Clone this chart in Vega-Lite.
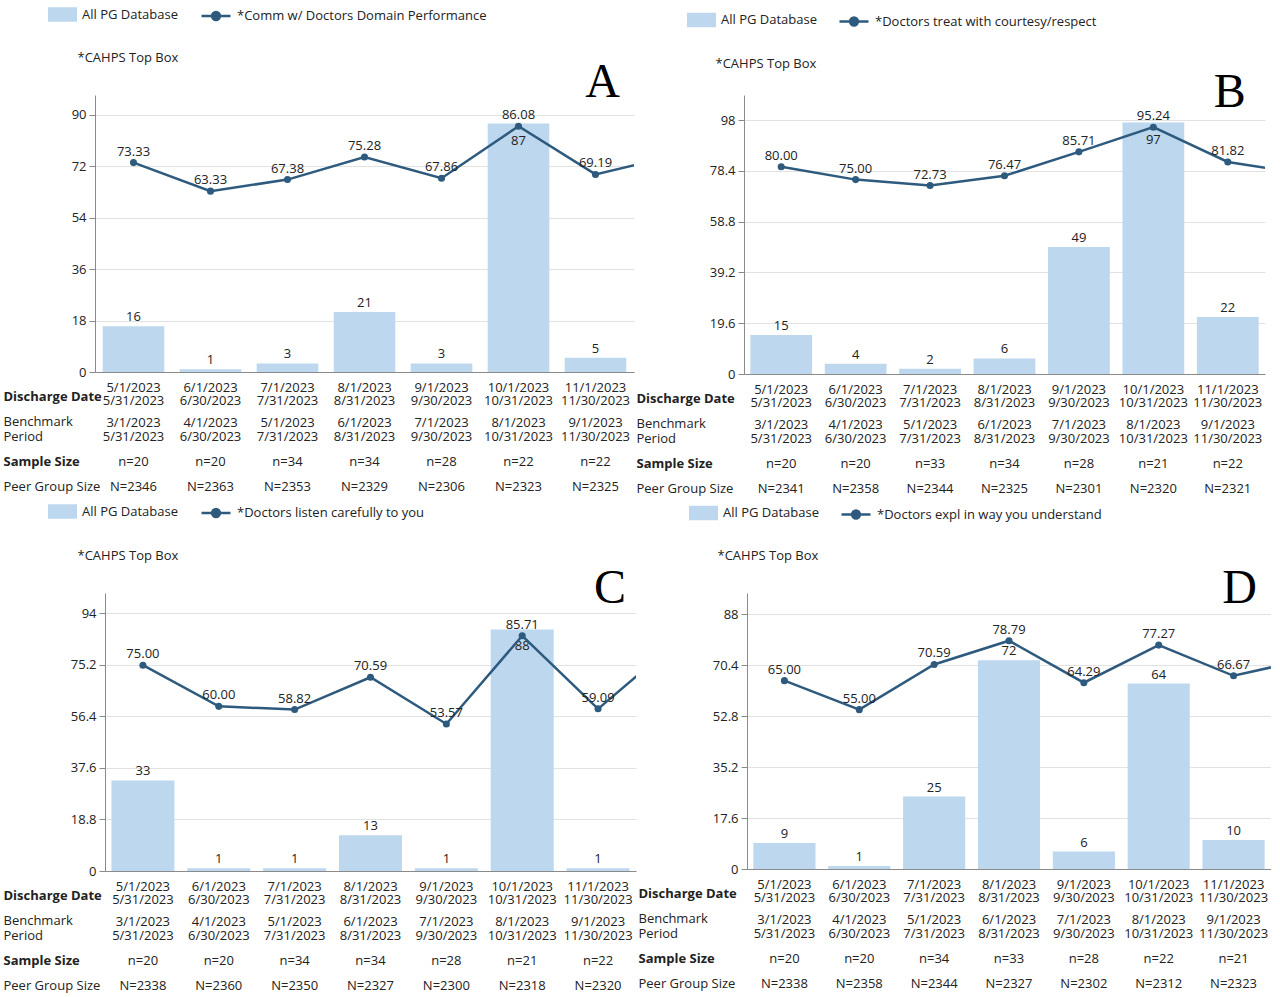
{
  "$schema": "https://vega.github.io/schema/vega-lite/v6.json",
  "padding": {"left": 0, "top": 0, "right": 0, "bottom": 0},
  "background": "white",
  "datasets": {
    "A": [
      {"Discharge Date": "5/1/2023\n5/31/2023", "Benchmark Period": "3/1/2023\n5/31/2023", "Sample Size": "n=20", "Peer Group Size": "N=2346", "bar": 16, "line": 73.33},
      {"Discharge Date": "6/1/2023\n6/30/2023", "Benchmark Period": "4/1/2023\n6/30/2023", "Sample Size": "n=20", "Peer Group Size": "N=2363", "bar": 1, "line": 63.33},
      {"Discharge Date": "7/1/2023\n7/31/2023", "Benchmark Period": "5/1/2023\n7/31/2023", "Sample Size": "n=34", "Peer Group Size": "N=2353", "bar": 3, "line": 67.38},
      {"Discharge Date": "8/1/2023\n8/31/2023", "Benchmark Period": "6/1/2023\n8/31/2023", "Sample Size": "n=34", "Peer Group Size": "N=2329", "bar": 21, "line": 75.28},
      {"Discharge Date": "9/1/2023\n9/30/2023", "Benchmark Period": "7/1/2023\n9/30/2023", "Sample Size": "n=28", "Peer Group Size": "N=2306", "bar": 3, "line": 67.86},
      {"Discharge Date": "10/1/2023\n10/31/2023", "Benchmark Period": "8/1/2023\n10/31/2023", "Sample Size": "n=22", "Peer Group Size": "N=2323", "bar": 87, "line": 86.08},
      {"Discharge Date": "11/1/2023\n11/30/2023", "Benchmark Period": "9/1/2023\n11/30/2023", "Sample Size": "n=22", "Peer Group Size": "N=2325", "bar": 5, "line": 69.19},
      {"Discharge Date": "12/1/2023\n12/31/2023", "line": 75.6}
    ],
    "B": [
      {"Discharge Date": "5/1/2023\n5/31/2023", "Benchmark Period": "3/1/2023\n5/31/2023", "Sample Size": "n=20", "Peer Group Size": "N=2341", "bar": 15, "line": 80.00},
      {"Discharge Date": "6/1/2023\n6/30/2023", "Benchmark Period": "4/1/2023\n6/30/2023", "Sample Size": "n=20", "Peer Group Size": "N=2358", "bar": 4, "line": 75.00},
      {"Discharge Date": "7/1/2023\n7/31/2023", "Benchmark Period": "5/1/2023\n7/31/2023", "Sample Size": "n=33", "Peer Group Size": "N=2344", "bar": 2, "line": 72.73},
      {"Discharge Date": "8/1/2023\n8/31/2023", "Benchmark Period": "6/1/2023\n8/31/2023", "Sample Size": "n=34", "Peer Group Size": "N=2325", "bar": 6, "line": 76.47},
      {"Discharge Date": "9/1/2023\n9/30/2023", "Benchmark Period": "7/1/2023\n9/30/2023", "Sample Size": "n=28", "Peer Group Size": "N=2301", "bar": 49, "line": 85.71},
      {"Discharge Date": "10/1/2023\n10/31/2023", "Benchmark Period": "8/1/2023\n10/31/2023", "Sample Size": "n=21", "Peer Group Size": "N=2320", "bar": 97, "line": 95.24},
      {"Discharge Date": "11/1/2023\n11/30/2023", "Benchmark Period": "9/1/2023\n11/30/2023", "Sample Size": "n=22", "Peer Group Size": "N=2321", "bar": 22, "line": 81.82},
      {"Discharge Date": "12/1/2023\n12/31/2023", "line": 77.3}
    ],
    "C": [
      {"Discharge Date": "5/1/2023\n5/31/2023", "Benchmark Period": "3/1/2023\n5/31/2023", "Sample Size": "n=20", "Peer Group Size": "N=2338", "bar": 33, "line": 75.00},
      {"Discharge Date": "6/1/2023\n6/30/2023", "Benchmark Period": "4/1/2023\n6/30/2023", "Sample Size": "n=20", "Peer Group Size": "N=2360", "bar": 1, "line": 60.00},
      {"Discharge Date": "7/1/2023\n7/31/2023", "Benchmark Period": "5/1/2023\n7/31/2023", "Sample Size": "n=34", "Peer Group Size": "N=2350", "bar": 1, "line": 58.82},
      {"Discharge Date": "8/1/2023\n8/31/2023", "Benchmark Period": "6/1/2023\n8/31/2023", "Sample Size": "n=34", "Peer Group Size": "N=2327", "bar": 13, "line": 70.59},
      {"Discharge Date": "9/1/2023\n9/30/2023", "Benchmark Period": "7/1/2023\n9/30/2023", "Sample Size": "n=28", "Peer Group Size": "N=2300", "bar": 1, "line": 53.57},
      {"Discharge Date": "10/1/2023\n10/31/2023", "Benchmark Period": "8/1/2023\n10/31/2023", "Sample Size": "n=21", "Peer Group Size": "N=2318", "bar": 88, "line": 85.71},
      {"Discharge Date": "11/1/2023\n11/30/2023", "Benchmark Period": "9/1/2023\n11/30/2023", "Sample Size": "n=22", "Peer Group Size": "N=2320", "bar": 1, "line": 59.09},
      {"Discharge Date": "12/1/2023\n12/31/2023", "line": 82.5}
    ],
    "D": [
      {"Discharge Date": "5/1/2023\n5/31/2023", "Benchmark Period": "3/1/2023\n5/31/2023", "Sample Size": "n=20", "Peer Group Size": "N=2338", "bar": 9, "line": 65.00},
      {"Discharge Date": "6/1/2023\n6/30/2023", "Benchmark Period": "4/1/2023\n6/30/2023", "Sample Size": "n=20", "Peer Group Size": "N=2358", "bar": 1, "line": 55.00},
      {"Discharge Date": "7/1/2023\n7/31/2023", "Benchmark Period": "5/1/2023\n7/31/2023", "Sample Size": "n=34", "Peer Group Size": "N=2344", "bar": 25, "line": 70.59},
      {"Discharge Date": "8/1/2023\n8/31/2023", "Benchmark Period": "6/1/2023\n8/31/2023", "Sample Size": "n=33", "Peer Group Size": "N=2327", "bar": 72, "line": 78.79},
      {"Discharge Date": "9/1/2023\n9/30/2023", "Benchmark Period": "7/1/2023\n9/30/2023", "Sample Size": "n=28", "Peer Group Size": "N=2302", "bar": 6, "line": 64.29},
      {"Discharge Date": "10/1/2023\n10/31/2023", "Benchmark Period": "8/1/2023\n10/31/2023", "Sample Size": "n=22", "Peer Group Size": "N=2312", "bar": 64, "line": 77.27},
      {"Discharge Date": "11/1/2023\n11/30/2023", "Benchmark Period": "9/1/2023\n11/30/2023", "Sample Size": "n=21", "Peer Group Size": "N=2323", "bar": 10, "line": 66.67},
      {"Discharge Date": "12/1/2023\n12/31/2023", "line": 72.5}
    ]
  },
  "spacing": 0,
  "resolve": {"scale": {"x": "independent", "y": "independent", "color": "independent", "stroke": "independent"}},
  "vconcat": [
    {
      "spacing": 2,
      "resolve": {"scale": {"x": "independent", "y": "independent", "color": "independent", "stroke": "independent"}},
      "hconcat": [
        {"width": 1, "height": 1, "data": {"values": [{}]}, "mark": {"type": "point", "size": 0, "opacity": 0}, "encoding": {}},
        {
          "data": {"name": "A"},
          "spacing": 0,
          "resolve": {"scale": {"x": "independent", "y": "independent", "color": "independent", "stroke": "independent"}},
          "vconcat": [
            {
              "width": 539,
              "height": 277,
              "resolve": {"scale": {"x": "independent"}},
              "layer": [
                {
                  "transform": [{"filter": "isValid(datum.bar)"}],
                  "encoding": {"x": {"field": "Discharge Date", "type": "nominal", "sort": null, "scale": {"paddingInner": 0.2, "paddingOuter": 0.1}, "axis": {"labels": false, "ticks": false, "title": null}}},
                  "layer": [
                    {
                      "mark": {"type": "bar"},
                      "encoding": {
                        "y": {"field": "bar", "type": "quantitative", "title": "*CAHPS Top Box", "scale": {"domain": [0, 97], "nice": false}, "axis": {"values": [0, 18, 36, 54, 72, 90], "titleX": -18, "titleY": -38}},
                        "color": {"datum": "All PG Database", "scale": {"range": ["#bcd7ee"]}, "legend": {"orient": "none", "legendX": -47, "legendY": -95, "symbolType": "M-1,-0.5L1,-0.5L1,0.5L-1,0.5Z", "symbolStrokeWidth": 0}}
                      }
                    },
                    {
                      "transform": [{"filter": "datum.bar < 80"}],
                      "mark": {"type": "text", "baseline": "bottom", "dy": -2},
                      "encoding": {"y": {"field": "bar", "type": "quantitative", "title": "*CAHPS Top Box"}, "text": {"field": "bar"}}
                    },
                    {
                      "transform": [{"filter": "datum.bar >= 80"}],
                      "mark": {"type": "text", "baseline": "top", "dy": 11},
                      "encoding": {"y": {"field": "bar", "type": "quantitative", "title": "*CAHPS Top Box"}, "text": {"field": "bar"}}
                    }
                  ]
                },
                {
                  "mark": {"type": "line", "strokeWidth": 2.5, "clip": true},
                  "encoding": {
                    "x": {"field": "Discharge Date", "type": "nominal", "sort": null, "scale": {"range": [0, 616], "paddingInner": 0.2, "paddingOuter": 0.1}, "axis": null},
                    "y": {"field": "line", "type": "quantitative", "title": "*CAHPS Top Box"},
                    "stroke": {"datum": "*Comm w/ Doctors Domain Performance", "scale": {"range": ["#2e5a7e"]}, "legend": {"orient": "none", "legendX": 105, "legendY": -95, "symbolType": "M-1,0L1,0M-0.27,0A0.27,0.27,0,1,1,0.27,0A0.27,0.27,0,1,1,-0.27,0Z", "symbolStrokeWidth": 2.5, "symbolFillColor": "#2e5a7e"}}
                  }
                },
                {
                  "transform": [{"filter": "isValid(datum.bar)"}],
                  "encoding": {"x": {"field": "Discharge Date", "type": "nominal", "sort": null, "scale": {"paddingInner": 0.2, "paddingOuter": 0.1}, "axis": null}},
                  "layer": [
                    {
                      "mark": {"type": "point", "filled": true, "size": 50, "color": "#2e5a7e", "opacity": 1},
                      "encoding": {"y": {"field": "line", "type": "quantitative", "title": "*CAHPS Top Box"}}
                    },
                    {
                      "mark": {"type": "text", "baseline": "bottom", "dy": -4},
                      "encoding": {"y": {"field": "line", "type": "quantitative", "title": "*CAHPS Top Box"}, "text": {"field": "line", "format": ".2f"}}
                    },
                    {
                      "data": {"values": [{"letter": "A", "bar": 0}]},
                      "mark": {"type": "text", "font": "Liberation Serif", "fontSize": 48, "baseline": "alphabetic", "dx": 7, "dy": 2, "color": "#000"},
                      "encoding": {"x": {"datum": "11/1/2023\n11/30/2023"}, "y": {"datum": 97}, "text": {"field": "letter"}}
                    }
                  ]
                }
              ]
            },
            {
              "width": 539,
              "height": 116,
              "transform": [{"filter": "isValid(datum['Sample Size'])"}, {"fold": ["Discharge Date", "Benchmark Period", "Sample Size", "Peer Group Size"], "as": ["row", "val"]}],
              "encoding": {
                "x": {"field": "Discharge Date", "type": "nominal", "sort": null, "scale": {"type": "point", "padding": 0.5}, "axis": null},
                "y": {"field": "row", "type": "nominal", "sort": ["Discharge Date", "Benchmark Period", "Sample Size", "Peer Group Size"], "scale": {"type": "point", "padding": 0.5}, "axis": {"title": null, "domain": false, "ticks": false, "grid": false, "labelAlign": "left", "labelPadding": 92, "labelExpr": "datum.value == 'Benchmark Period' ? ['Benchmark', 'Period'] : datum.value", "labelOffset": {"condition": [{"test": "datum.value == 'Discharge Date'", "value": 3}, {"test": "datum.value == 'Benchmark Period'", "value": -1}, {"test": "datum.value == 'Sample Size'", "value": 10}], "value": 6}, "labelFontWeight": {"condition": {"test": "datum.value == 'Discharge Date' || datum.value == 'Sample Size'", "value": "bold"}, "value": "normal"}}},
                "text": {"field": "val"}
              },
              "layer": [
                {"transform": [{"filter": "datum.row == 'Discharge Date'"}], "mark": {"type": "text", "lineBreak": "\n", "lineHeight": 13, "dy": -5.5}},
                {"transform": [{"filter": "datum.row == 'Benchmark Period'"}], "mark": {"type": "text", "lineBreak": "\n", "lineHeight": 14, "dy": 0.5}},
                {"transform": [{"filter": "datum.row == 'Sample Size'"}], "mark": {"type": "text", "dy": 10.5}},
                {"transform": [{"filter": "datum.row == 'Peer Group Size'"}], "mark": {"type": "text", "dy": 6.5}}
              ]
            }
          ]
        },
        {
          "data": {"name": "B"},
          "spacing": 0,
          "resolve": {"scale": {"x": "independent", "y": "independent", "color": "independent", "stroke": "independent"}},
          "vconcat": [
            {
              "width": 521,
              "height": 279,
              "resolve": {"scale": {"x": "independent"}},
              "layer": [
                {
                  "transform": [{"filter": "isValid(datum.bar)"}],
                  "encoding": {"x": {"field": "Discharge Date", "type": "nominal", "sort": null, "scale": {"paddingInner": 0.17, "paddingOuter": 0.085}, "axis": {"labels": false, "ticks": false, "title": null}}},
                  "layer": [
                    {
                      "mark": {"type": "bar"},
                      "encoding": {
                        "y": {"field": "bar", "type": "quantitative", "title": "*CAHPS Top Box", "scale": {"domain": [0, 107.65], "nice": false}, "axis": {"values": [0, 19.6, 39.2, 58.8, 78.4, 98], "titleX": -29, "titleY": -32}},
                        "color": {"datum": "All PG Database", "scale": {"range": ["#bcd7ee"]}, "legend": {"orient": "none", "legendX": -57, "legendY": -89.5, "symbolType": "M-1,-0.5L1,-0.5L1,0.5L-1,0.5Z", "symbolStrokeWidth": 0}}
                      }
                    },
                    {
                      "transform": [{"filter": "datum.bar < 80"}],
                      "mark": {"type": "text", "baseline": "bottom", "dy": -2},
                      "encoding": {"y": {"field": "bar", "type": "quantitative", "title": "*CAHPS Top Box"}, "text": {"field": "bar"}}
                    },
                    {
                      "transform": [{"filter": "datum.bar >= 80"}],
                      "mark": {"type": "text", "baseline": "top", "dy": 11},
                      "encoding": {"y": {"field": "bar", "type": "quantitative", "title": "*CAHPS Top Box"}, "text": {"field": "bar"}}
                    }
                  ]
                },
                {
                  "mark": {"type": "line", "strokeWidth": 2.5, "clip": true},
                  "encoding": {
                    "x": {"field": "Discharge Date", "type": "nominal", "sort": null, "scale": {"range": [0, 595.43], "paddingInner": 0.17, "paddingOuter": 0.085}, "axis": null},
                    "y": {"field": "line", "type": "quantitative", "title": "*CAHPS Top Box"},
                    "stroke": {"datum": "*Doctors treat with courtesy/respect", "scale": {"range": ["#2e5a7e"]}, "legend": {"orient": "none", "legendX": 94, "legendY": -89.5, "symbolType": "M-1,0L1,0M-0.27,0A0.27,0.27,0,1,1,0.27,0A0.27,0.27,0,1,1,-0.27,0Z", "symbolStrokeWidth": 2.5, "symbolFillColor": "#2e5a7e"}}
                  }
                },
                {
                  "transform": [{"filter": "isValid(datum.bar)"}],
                  "encoding": {"x": {"field": "Discharge Date", "type": "nominal", "sort": null, "scale": {"paddingInner": 0.17, "paddingOuter": 0.085}, "axis": null}},
                  "layer": [
                    {
                      "mark": {"type": "point", "filled": true, "size": 50, "color": "#2e5a7e", "opacity": 1},
                      "encoding": {"y": {"field": "line", "type": "quantitative", "title": "*CAHPS Top Box"}}
                    },
                    {
                      "mark": {"type": "text", "baseline": "bottom", "dy": -4},
                      "encoding": {"y": {"field": "line", "type": "quantitative", "title": "*CAHPS Top Box"}, "text": {"field": "line", "format": ".2f"}}
                    },
                    {
                      "data": {"values": [{"letter": "B", "bar": 0}]},
                      "mark": {"type": "text", "font": "Liberation Serif", "fontSize": 48, "baseline": "alphabetic", "dx": 2, "dy": 12, "color": "#000"},
                      "encoding": {"x": {"datum": "11/1/2023\n11/30/2023"}, "y": {"datum": 107.65}, "text": {"field": "letter"}}
                    }
                  ]
                }
              ]
            },
            {
              "width": 521,
              "height": 116,
              "transform": [{"filter": "isValid(datum['Sample Size'])"}, {"fold": ["Discharge Date", "Benchmark Period", "Sample Size", "Peer Group Size"], "as": ["row", "val"]}],
              "encoding": {
                "x": {"field": "Discharge Date", "type": "nominal", "sort": null, "scale": {"type": "point", "padding": 0.5}, "axis": null},
                "y": {"field": "row", "type": "nominal", "sort": ["Discharge Date", "Benchmark Period", "Sample Size", "Peer Group Size"], "scale": {"type": "point", "padding": 0.5}, "axis": {"title": null, "domain": false, "ticks": false, "grid": false, "labelAlign": "left", "labelPadding": 108, "labelExpr": "datum.value == 'Benchmark Period' ? ['Benchmark', 'Period'] : datum.value", "labelOffset": {"condition": [{"test": "datum.value == 'Discharge Date'", "value": 3}, {"test": "datum.value == 'Benchmark Period'", "value": -1}, {"test": "datum.value == 'Sample Size'", "value": 10}], "value": 6}, "labelFontWeight": {"condition": {"test": "datum.value == 'Discharge Date' || datum.value == 'Sample Size'", "value": "bold"}, "value": "normal"}}},
                "text": {"field": "val"}
              },
              "layer": [
                {"transform": [{"filter": "datum.row == 'Discharge Date'"}], "mark": {"type": "text", "lineBreak": "\n", "lineHeight": 13, "dy": -5.5}},
                {"transform": [{"filter": "datum.row == 'Benchmark Period'"}], "mark": {"type": "text", "lineBreak": "\n", "lineHeight": 14, "dy": 0.5}},
                {"transform": [{"filter": "datum.row == 'Sample Size'"}], "mark": {"type": "text", "dy": 10.5}},
                {"transform": [{"filter": "datum.row == 'Peer Group Size'"}], "mark": {"type": "text", "dy": 6.5}}
              ]
            }
          ]
        }
      ]
    },
    {
      "spacing": 2,
      "resolve": {"scale": {"x": "independent", "y": "independent", "color": "independent", "stroke": "independent"}},
      "hconcat": [
        {"width": 1, "height": 1, "data": {"values": [{}]}, "mark": {"type": "point", "size": 0, "opacity": 0}, "encoding": {}},
        {
          "data": {"name": "C"},
          "spacing": 0,
          "resolve": {"scale": {"x": "independent", "y": "independent", "color": "independent", "stroke": "independent"}},
          "vconcat": [
            {
              "width": 531,
              "height": 278,
              "resolve": {"scale": {"x": "independent"}},
              "layer": [
                {
                  "transform": [{"filter": "isValid(datum.bar)"}],
                  "encoding": {"x": {"field": "Discharge Date", "type": "nominal", "sort": null, "scale": {"paddingInner": 0.17, "paddingOuter": 0.085}, "axis": {"labels": false, "ticks": false, "title": null}}},
                  "layer": [
                    {
                      "mark": {"type": "bar"},
                      "encoding": {
                        "y": {"field": "bar", "type": "quantitative", "title": "*CAHPS Top Box", "scale": {"domain": [0, 101.3], "nice": false}, "axis": {"values": [0, 18.8, 37.6, 56.4, 75.2, 94], "titleX": -28, "titleY": -38}},
                        "color": {"datum": "All PG Database", "scale": {"range": ["#bcd7ee"]}, "legend": {"orient": "none", "legendX": -57, "legendY": -96, "symbolType": "M-1,-0.5L1,-0.5L1,0.5L-1,0.5Z", "symbolStrokeWidth": 0}}
                      }
                    },
                    {
                      "transform": [{"filter": "datum.bar < 80"}],
                      "mark": {"type": "text", "baseline": "bottom", "dy": -2},
                      "encoding": {"y": {"field": "bar", "type": "quantitative", "title": "*CAHPS Top Box"}, "text": {"field": "bar"}}
                    },
                    {
                      "transform": [{"filter": "datum.bar >= 80"}],
                      "mark": {"type": "text", "baseline": "top", "dy": 11},
                      "encoding": {"y": {"field": "bar", "type": "quantitative", "title": "*CAHPS Top Box"}, "text": {"field": "bar"}}
                    }
                  ]
                },
                {
                  "mark": {"type": "line", "strokeWidth": 2.5, "clip": true},
                  "encoding": {
                    "x": {"field": "Discharge Date", "type": "nominal", "sort": null, "scale": {"range": [0, 606.86], "paddingInner": 0.17, "paddingOuter": 0.085}, "axis": null},
                    "y": {"field": "line", "type": "quantitative", "title": "*CAHPS Top Box"},
                    "stroke": {"datum": "*Doctors listen carefully to you", "scale": {"range": ["#2e5a7e"]}, "legend": {"orient": "none", "legendX": 95, "legendY": -96, "symbolType": "M-1,0L1,0M-0.27,0A0.27,0.27,0,1,1,0.27,0A0.27,0.27,0,1,1,-0.27,0Z", "symbolStrokeWidth": 2.5, "symbolFillColor": "#2e5a7e"}}
                  }
                },
                {
                  "transform": [{"filter": "isValid(datum.bar)"}],
                  "encoding": {"x": {"field": "Discharge Date", "type": "nominal", "sort": null, "scale": {"paddingInner": 0.17, "paddingOuter": 0.085}, "axis": null}},
                  "layer": [
                    {
                      "mark": {"type": "point", "filled": true, "size": 50, "color": "#2e5a7e", "opacity": 1},
                      "encoding": {"y": {"field": "line", "type": "quantitative", "title": "*CAHPS Top Box"}}
                    },
                    {
                      "mark": {"type": "text", "baseline": "bottom", "dy": -4},
                      "encoding": {"y": {"field": "line", "type": "quantitative", "title": "*CAHPS Top Box"}, "text": {"field": "line", "format": ".2f"}}
                    },
                    {
                      "data": {"values": [{"letter": "C", "bar": 0}]},
                      "mark": {"type": "text", "font": "Liberation Serif", "fontSize": 48, "baseline": "alphabetic", "dx": 12, "dy": 10, "color": "#000"},
                      "encoding": {"x": {"datum": "11/1/2023\n11/30/2023"}, "y": {"datum": 101.3}, "text": {"field": "letter"}}
                    }
                  ]
                }
              ]
            },
            {
              "width": 531,
              "height": 116,
              "transform": [{"filter": "isValid(datum['Sample Size'])"}, {"fold": ["Discharge Date", "Benchmark Period", "Sample Size", "Peer Group Size"], "as": ["row", "val"]}],
              "encoding": {
                "x": {"field": "Discharge Date", "type": "nominal", "sort": null, "scale": {"type": "point", "padding": 0.5}, "axis": null},
                "y": {"field": "row", "type": "nominal", "sort": ["Discharge Date", "Benchmark Period", "Sample Size", "Peer Group Size"], "scale": {"type": "point", "padding": 0.5}, "axis": {"title": null, "domain": false, "ticks": false, "grid": false, "labelAlign": "left", "labelPadding": 102, "labelExpr": "datum.value == 'Benchmark Period' ? ['Benchmark', 'Period'] : datum.value", "labelOffset": {"condition": [{"test": "datum.value == 'Discharge Date'", "value": 3}, {"test": "datum.value == 'Benchmark Period'", "value": -1}, {"test": "datum.value == 'Sample Size'", "value": 10}], "value": 6}, "labelFontWeight": {"condition": {"test": "datum.value == 'Discharge Date' || datum.value == 'Sample Size'", "value": "bold"}, "value": "normal"}}},
                "text": {"field": "val"}
              },
              "layer": [
                {"transform": [{"filter": "datum.row == 'Discharge Date'"}], "mark": {"type": "text", "lineBreak": "\n", "lineHeight": 13, "dy": -5.5}},
                {"transform": [{"filter": "datum.row == 'Benchmark Period'"}], "mark": {"type": "text", "lineBreak": "\n", "lineHeight": 14, "dy": 0.5}},
                {"transform": [{"filter": "datum.row == 'Sample Size'"}], "mark": {"type": "text", "dy": 10.5}},
                {"transform": [{"filter": "datum.row == 'Peer Group Size'"}], "mark": {"type": "text", "dy": 6.5}}
              ]
            }
          ]
        },
        {
          "data": {"name": "D"},
          "spacing": 0,
          "resolve": {"scale": {"x": "independent", "y": "independent", "color": "independent", "stroke": "independent"}},
          "vconcat": [
            {
              "width": 524,
              "height": 276,
              "resolve": {"scale": {"x": "independent"}},
              "layer": [
                {
                  "transform": [{"filter": "isValid(datum.bar)"}],
                  "encoding": {"x": {"field": "Discharge Date", "type": "nominal", "sort": null, "scale": {"paddingInner": 0.17, "paddingOuter": 0.085}, "axis": {"labels": false, "ticks": false, "title": null}}},
                  "layer": [
                    {
                      "mark": {"type": "bar"},
                      "encoding": {
                        "y": {"field": "bar", "type": "quantitative", "title": "*CAHPS Top Box", "scale": {"domain": [0, 95.25], "nice": false}, "axis": {"values": [0, 17.6, 35.2, 52.8, 70.4, 88], "titleX": -30, "titleY": -38}},
                        "color": {"datum": "All PG Database", "scale": {"range": ["#bcd7ee"]}, "legend": {"orient": "none", "legendX": -58, "legendY": -94.5, "symbolType": "M-1,-0.5L1,-0.5L1,0.5L-1,0.5Z", "symbolStrokeWidth": 0}}
                      }
                    },
                    {
                      "transform": [{"filter": "datum.bar < 80"}],
                      "mark": {"type": "text", "baseline": "bottom", "dy": -2},
                      "encoding": {"y": {"field": "bar", "type": "quantitative", "title": "*CAHPS Top Box"}, "text": {"field": "bar"}}
                    },
                    {
                      "transform": [{"filter": "datum.bar >= 80"}],
                      "mark": {"type": "text", "baseline": "top", "dy": 11},
                      "encoding": {"y": {"field": "bar", "type": "quantitative", "title": "*CAHPS Top Box"}, "text": {"field": "bar"}}
                    }
                  ]
                },
                {
                  "mark": {"type": "line", "strokeWidth": 2.5, "clip": true},
                  "encoding": {
                    "x": {"field": "Discharge Date", "type": "nominal", "sort": null, "scale": {"range": [0, 598.86], "paddingInner": 0.17, "paddingOuter": 0.085}, "axis": null},
                    "y": {"field": "line", "type": "quantitative", "title": "*CAHPS Top Box"},
                    "stroke": {"datum": "*Doctors expl in way you understand", "scale": {"range": ["#2e5a7e"]}, "legend": {"orient": "none", "legendX": 93, "legendY": -94.5, "symbolType": "M-1,0L1,0M-0.27,0A0.27,0.27,0,1,1,0.27,0A0.27,0.27,0,1,1,-0.27,0Z", "symbolStrokeWidth": 2.5, "symbolFillColor": "#2e5a7e"}}
                  }
                },
                {
                  "transform": [{"filter": "isValid(datum.bar)"}],
                  "encoding": {"x": {"field": "Discharge Date", "type": "nominal", "sort": null, "scale": {"paddingInner": 0.17, "paddingOuter": 0.085}, "axis": null}},
                  "layer": [
                    {
                      "mark": {"type": "point", "filled": true, "size": 50, "color": "#2e5a7e", "opacity": 1},
                      "encoding": {"y": {"field": "line", "type": "quantitative", "title": "*CAHPS Top Box"}}
                    },
                    {
                      "mark": {"type": "text", "baseline": "bottom", "dy": -4},
                      "encoding": {"y": {"field": "line", "type": "quantitative", "title": "*CAHPS Top Box"}, "text": {"field": "line", "format": ".2f"}}
                    },
                    {
                      "data": {"values": [{"letter": "D", "bar": 0}]},
                      "mark": {"type": "text", "font": "Liberation Serif", "fontSize": 48, "baseline": "alphabetic", "dx": 6, "dy": 10, "color": "#000"},
                      "encoding": {"x": {"datum": "11/1/2023\n11/30/2023"}, "y": {"datum": 95.25}, "text": {"field": "letter"}}
                    }
                  ]
                }
              ]
            },
            {
              "width": 524,
              "height": 116,
              "transform": [{"filter": "isValid(datum['Sample Size'])"}, {"fold": ["Discharge Date", "Benchmark Period", "Sample Size", "Peer Group Size"], "as": ["row", "val"]}],
              "encoding": {
                "x": {"field": "Discharge Date", "type": "nominal", "sort": null, "scale": {"type": "point", "padding": 0.5}, "axis": null},
                "y": {"field": "row", "type": "nominal", "sort": ["Discharge Date", "Benchmark Period", "Sample Size", "Peer Group Size"], "scale": {"type": "point", "padding": 0.5}, "axis": {"title": null, "domain": false, "ticks": false, "grid": false, "labelAlign": "left", "labelPadding": 109, "labelExpr": "datum.value == 'Benchmark Period' ? ['Benchmark', 'Period'] : datum.value", "labelOffset": {"condition": [{"test": "datum.value == 'Discharge Date'", "value": 3}, {"test": "datum.value == 'Benchmark Period'", "value": -1}, {"test": "datum.value == 'Sample Size'", "value": 10}], "value": 6}, "labelFontWeight": {"condition": {"test": "datum.value == 'Discharge Date' || datum.value == 'Sample Size'", "value": "bold"}, "value": "normal"}}},
                "text": {"field": "val"}
              },
              "layer": [
                {"transform": [{"filter": "datum.row == 'Discharge Date'"}], "mark": {"type": "text", "lineBreak": "\n", "lineHeight": 13, "dy": -5.5}},
                {"transform": [{"filter": "datum.row == 'Benchmark Period'"}], "mark": {"type": "text", "lineBreak": "\n", "lineHeight": 14, "dy": 0.5}},
                {"transform": [{"filter": "datum.row == 'Sample Size'"}], "mark": {"type": "text", "dy": 10.5}},
                {"transform": [{"filter": "datum.row == 'Peer Group Size'"}], "mark": {"type": "text", "dy": 6.5}}
              ]
            }
          ]
        }
      ]
    }
  ],
  "config": {
    "view": {"stroke": null},
    "font": "Open Sans",
    "axis": {"labelFont": "Open Sans", "labelFontSize": 13, "labelColor": "#222", "labelLineHeight": 15, "domainColor": "#8a8a8a", "tickColor": "#8a8a8a", "tickSize": 6, "labelPadding": 3, "gridColor": "#e2e2e2", "titleFont": "Open Sans", "titleFontSize": 13, "titleFontWeight": "normal", "titleColor": "#222", "titleAngle": 0, "titleAlign": "left", "titleBaseline": "middle"},
    "axisX": {"grid": false},
    "axisY": {"grid": true},
    "axisQuantitative": {"format": ".1~f"},
    "legend": {"title": null, "direction": "horizontal", "padding": 0, "labelFont": "Open Sans", "labelFontSize": 13, "labelColor": "#222", "labelOffset": 5, "labelLimit": 0, "symbolSize": 841, "symbolOpacity": 1},
    "text": {"font": "Open Sans", "fontSize": 13, "color": "#222"},
    "line": {"strokeWidth": 2.5}
  }
}
